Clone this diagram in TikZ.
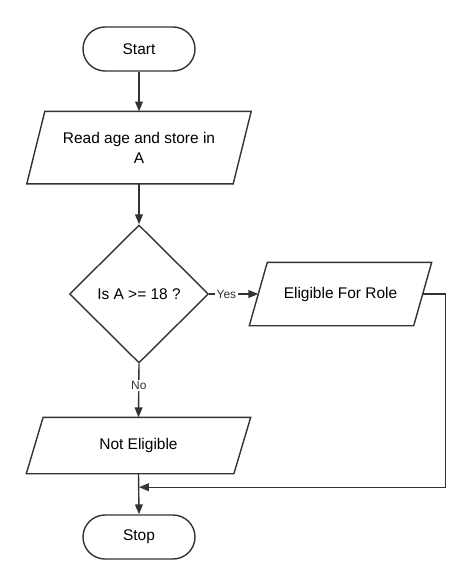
\documentclass[tikz,border=0pt]{standalone}
\usepackage{fontspec}
\setmainfont{Liberation Sans}
\usepackage{tikz}
\usetikzlibrary{arrows.meta,positioning,shapes.geometric,calc}
\usepackage{xcolor}
\definecolor{ink}{HTML}{333333}

\begin{document}
\begin{tikzpicture}[
  line width=1pt, draw=ink,
  term/.style={draw=ink, rounded corners=0.55cm, minimum width=2.8cm, minimum height=1.1cm,
               align=center, font=\fontsize{11}{14}\selectfont},
  % slanted box: plain rectangle node, outline drawn from its corners
  io/.style={inner sep=1pt, align=center, font=\fontsize{11}{14}\selectfont,
             append after command={\pgfextra{
               \draw[ink, line width=1pt, line join=miter]
                 ([xshift=#1]\tikzlastnode.north west) -- (\tikzlastnode.north east)
                 -- ([xshift=-#1]\tikzlastnode.south east) -- (\tikzlastnode.south west) -- cycle;}}},
  dec/.style={draw=ink, diamond, inner sep=0pt, minimum width=3.475cm, minimum height=3.45cm,
              align=center, font=\fontsize{11}{14}\selectfont},
  arr/.style={ink, -{Triangle[length=7pt,width=5.5pt]}},
  lbl/.style={fill=white, inner sep=1pt, font=\fontsize{8.5}{10}\selectfont}
]
  \useasboundingbox (0,0) rectangle (11.85,-14.675);

  \node[term] (start) at (3.475,-1.225) {Start};
  \node[io=0.45cm, minimum width=5.575cm, minimum height=1.775cm] (read) at (3.475,-3.69)
        {Read age and store in\\A};
  \node[dec] (test) at (3.475,-7.35) {Is A >= 18 ?};
  \node[io=0.45cm, minimum width=4.525cm, minimum height=1.55cm] (elig) at (8.5125,-7.35)
        {Eligible For Role};
  \node[io=0.42cm, minimum width=5.575cm, minimum height=1.375cm] (notel) at (3.4625,-11.1375)
        {Not Eligible};
  \node[term] (stop) at (3.475,-13.425) {Stop};

  \coordinate (join) at (3.475,-12.18);
  \coordinate (bend) at (11.14,-12.18);

  \draw[arr] (start) -- (read);
  \draw[arr] (read) -- (test);
  \draw[arr] (test.east) -- node[lbl, pos=0.35]{Yes} ([xshift=0.225cm]elig.west);
  \draw[arr] (test.south) -- node[lbl, pos=0.41]{No} (notel.north);
  \draw[arr] (notel.south) -- (stop.north);
  \draw[arr] ([xshift=-0.225cm]elig.east) -| (bend) -- (join);
\end{tikzpicture}
\end{document}
